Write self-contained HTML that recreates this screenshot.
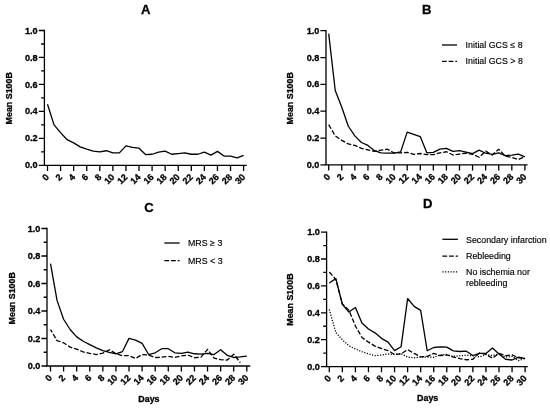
<!DOCTYPE html>
<html><head><meta charset="utf-8"><title>Mean S100B</title>
<style>html,body{margin:0;padding:0;background:#fff}svg{display:block}</style>
</head><body>
<svg width="550" height="408" viewBox="0 0 550 408">
<rect width="550" height="408" fill="#fff"/>
<g fill="none" stroke="#000" stroke-width="1.3" stroke-linecap="butt" stroke-linejoin="miter">
<path d="M44.4 29.85V165.95M44.4 165.3H246.70"/>
<path d="M38.80 165.30H44.4M41.10 151.82H44.4M38.80 138.34H44.4M41.10 124.86H44.4M38.80 111.38H44.4M41.10 97.90H44.4M38.80 84.42H44.4M41.10 70.94H44.4M38.80 57.46H44.4M41.10 43.98H44.4M38.80 30.50H44.4M47.50 165.3V170.90M60.57 165.3V170.90M73.65 165.3V170.90M86.72 165.3V170.90M99.79 165.3V170.90M112.87 165.3V170.90M125.94 165.3V170.90M139.01 165.3V170.90M152.09 165.3V170.90M165.16 165.3V170.90M178.23 165.3V170.90M191.31 165.3V170.90M204.38 165.3V170.90M217.45 165.3V170.90M230.53 165.3V170.90M243.60 165.3V170.90"/>
<polyline points="47.50,104.24 54.04,124.86 60.57,132.68 67.11,139.69 73.65,142.92 80.18,146.83 86.72,149.12 93.26,151.15 99.79,151.82 106.33,150.74 112.87,152.90 119.40,152.90 125.94,145.89 132.48,147.37 139.01,148.18 145.55,154.58 152.09,154.25 158.62,152.09 165.16,151.05 171.70,154.25 178.23,153.57 184.77,152.82 191.31,154.25 197.84,154.25 204.38,152.09 210.92,155.06 217.45,151.35 223.99,156.05 230.53,156.05 237.06,157.95 243.60,155.46" stroke-linejoin="round"/>
<path d="M326.0 30.05V165.55M326.0 164.9H527.60"/>
<path d="M320.40 164.90H326.0M320.40 138.06H326.0M320.40 111.22H326.0M320.40 84.38H326.0M320.40 57.54H326.0M320.40 30.70H326.0M328.70 164.9V170.50M341.78 164.9V170.50M354.86 164.9V170.50M367.94 164.9V170.50M381.02 164.9V170.50M394.10 164.9V170.50M407.18 164.9V170.50M420.26 164.9V170.50M433.34 164.9V170.50M446.42 164.9V170.50M459.50 164.9V170.50M472.58 164.9V170.50M485.66 164.9V170.50M498.74 164.9V170.50M511.82 164.9V170.50M524.90 164.9V170.50"/>
<polyline points="328.70,33.65 335.24,90.55 341.78,107.19 348.32,126.25 354.86,135.91 361.40,142.49 367.94,145.44 374.48,150.67 381.02,152.82 387.56,153.09 394.10,153.09 400.64,151.88 407.18,132.16 413.72,134.44 420.26,136.58 426.80,152.82 433.34,152.42 439.88,149.20 446.42,148.39 452.96,151.35 459.50,150.67 466.04,152.08 472.58,153.56 479.12,150.14 485.66,153.22 492.20,154.30 498.74,152.82 505.28,155.77 511.82,155.04 518.36,154.03 524.90,156.85" stroke-linejoin="round"/>
<polyline points="328.70,124.64 335.24,135.91 341.78,140.34 348.32,143.96 354.86,145.44 361.40,148.39 367.94,149.87 374.48,151.35 381.02,150.14 387.56,149.20 394.10,152.96 400.64,152.82 407.18,152.42 413.72,154.30 420.26,153.49 426.80,154.70 433.34,154.70 439.88,152.82 446.42,151.75 452.96,155.04 459.50,154.03 466.04,153.09 472.58,154.30 479.12,157.25 485.66,151.08 492.20,155.04 498.74,149.20 505.28,156.04 511.82,157.52 518.36,159.53 524.90,156.50" stroke-dasharray="4.75 1.9" stroke-linejoin="round"/>
<path d="M47.0 227.85V366.65M47.0 366.0H250.30"/>
<path d="M41.40 366.00H47.0M43.70 352.25H47.0M41.40 338.50H47.0M43.70 324.75H47.0M41.40 311.00H47.0M43.70 297.25H47.0M41.40 283.50H47.0M43.70 269.75H47.0M41.40 256.00H47.0M43.70 242.25H47.0M41.40 228.50H47.0M50.50 366.0V371.60M63.59 366.0V371.60M76.67 366.0V371.60M89.76 366.0V371.60M102.85 366.0V371.60M115.93 366.0V371.60M129.02 366.0V371.60M142.11 366.0V371.60M155.19 366.0V371.60M168.28 366.0V371.60M181.37 366.0V371.60M194.45 366.0V371.60M207.54 366.0V371.60M220.63 366.0V371.60M233.71 366.0V371.60M246.80 366.0V371.60"/>
<polyline points="50.50,263.70 57.04,300.41 63.59,319.25 70.13,329.49 76.67,336.85 83.22,341.25 89.76,344.55 96.30,347.85 102.85,350.60 109.39,352.31 115.93,353.76 122.48,351.56 129.02,338.36 135.56,340.15 142.11,343.45 148.65,354.52 155.19,352.80 161.74,348.68 168.28,348.68 174.82,352.80 181.37,353.35 187.91,352.02 194.45,353.76 201.00,354.22 207.54,353.35 214.08,354.52 220.63,349.77 227.17,355.27 233.71,357.48 240.26,356.93 246.80,356.10" stroke-linejoin="round"/>
<polyline points="50.50,329.49 57.04,340.56 63.59,342.76 70.13,347.16 76.67,349.09 83.22,351.98 89.76,353.35 96.30,354.52 102.85,353.07 109.39,349.77 115.93,353.76 122.48,355.69 129.02,355.69 135.56,358.49 142.11,354.52 148.65,355.00 155.19,357.48 161.74,357.20 168.28,356.28 174.82,357.48 181.37,355.96 187.91,355.00 194.45,357.75 201.00,357.20 207.54,349.36 214.08,358.20 220.63,359.68 227.17,360.09 233.71,354.22 240.26,362.56" stroke-dasharray="4.75 1.9" stroke-dashoffset="1.46" stroke-linejoin="round"/>
<path d="M326.6 231.45V367.25M326.6 366.6H527.80"/>
<path d="M321.00 366.60H326.6M323.30 353.15H326.6M321.00 339.70H326.6M323.30 326.25H326.6M321.00 312.80H326.6M323.30 299.35H326.6M321.00 285.90H326.6M323.30 272.45H326.6M321.00 259.00H326.6M323.30 245.55H326.6M321.00 232.10H326.6M329.30 366.6V372.20M342.35 366.6V372.20M355.41 366.6V372.20M368.46 366.6V372.20M381.51 366.6V372.20M394.57 366.6V372.20M407.62 366.6V372.20M420.67 366.6V372.20M433.73 366.6V372.20M446.78 366.6V372.20M459.83 366.6V372.20M472.89 366.6V372.20M485.94 366.6V372.20M498.99 366.6V372.20M512.05 366.6V372.20M525.10 366.6V372.20"/>
<polyline points="329.30,283.08 335.83,278.64 342.35,304.33 348.88,311.99 355.41,307.55 361.93,323.02 368.46,328.94 374.99,332.84 381.51,338.36 388.04,342.12 394.57,350.59 401.09,346.69 407.62,298.54 414.15,306.34 420.67,310.38 427.20,350.73 433.73,347.50 440.25,346.83 446.78,347.10 453.31,350.86 459.83,351.48 466.36,351.19 472.89,355.57 479.41,353.42 485.94,353.42 492.47,347.96 498.99,354.09 505.52,359.26 512.05,360.01 518.57,357.05 525.10,358.53" stroke-linejoin="round"/>
<polyline points="329.30,272.05 335.83,279.31 342.35,303.92 348.88,310.11 355.41,325.98 361.93,337.41 368.46,342.12 374.99,346.16 381.51,348.71 388.04,350.59 394.57,354.50 401.09,353.82 407.62,349.72 414.15,353.42 420.67,356.78 427.20,356.38 433.73,353.42 440.25,355.57 446.78,354.90 453.31,357.05 459.83,358.53 466.36,359.74 472.89,359.26 479.41,352.95 485.94,354.41 492.47,358.26 498.99,353.42 505.52,355.57 512.05,354.90 518.57,357.79 525.10,358.26" stroke-dasharray="4.75 1.9" stroke-linejoin="round"/>
<polyline points="329.30,309.44 335.83,332.57 342.35,339.83 348.88,345.75 355.41,348.98 361.93,351.67 368.46,353.82 374.99,355.71 381.51,355.03 388.04,353.96 394.57,354.50 401.09,353.69 407.62,357.05 414.15,357.79 420.67,357.05 427.20,357.05 433.73,357.32 440.25,354.90 446.78,354.50 453.31,356.38 459.83,355.84 466.36,355.30 472.89,355.57 479.41,357.05 485.94,354.50 492.47,355.57 498.99,353.82 505.52,357.05 512.05,356.38 518.57,360.72 525.10,358.26" stroke-dasharray="1.2 1.5" stroke-linejoin="round"/>
<path d="M442 45.0H457"/>
<path d="M442 61.4H457" stroke-dasharray="4.75 1.9"/>
<path d="M164.4 243.0H179.6"/>
<path d="M164.4 260.6H179.6" stroke-dasharray="4.75 1.9"/>
<path d="M442.4 239.3H457.9"/>
<path d="M442.4 256.2H457.9" stroke-dasharray="4.75 1.9"/>
<path d="M442.4 271.9H457.9" stroke-dasharray="1.2 1.5"/>
</g>
<g font-family="'Liberation Sans',Arial,sans-serif" fill="#000">
<g font-weight="bold" font-size="8.9" stroke="#000" stroke-width="0.3">
<text x="145.85" y="14.4" font-size="13.1" text-anchor="middle">A</text>
<text transform="translate(11.6 98.3) rotate(-90)" text-anchor="middle">Mean S100B</text>
<text x="37.70" y="168.40" text-anchor="end" font-size="9.1">0.0</text>
<text x="37.70" y="141.44" text-anchor="end" font-size="9.1">0.2</text>
<text x="37.70" y="114.48" text-anchor="end" font-size="9.1">0.4</text>
<text x="37.70" y="87.52" text-anchor="end" font-size="9.1">0.6</text>
<text x="37.70" y="60.56" text-anchor="end" font-size="9.1">0.8</text>
<text x="37.70" y="33.60" text-anchor="end" font-size="9.1">1.0</text>
<text transform="translate(49.70 177.70) rotate(-45)" text-anchor="end" font-size="9.1">0</text>
<text transform="translate(62.77 177.70) rotate(-45)" text-anchor="end" font-size="9.1">2</text>
<text transform="translate(75.85 177.70) rotate(-45)" text-anchor="end" font-size="9.1">4</text>
<text transform="translate(88.92 177.70) rotate(-45)" text-anchor="end" font-size="9.1">6</text>
<text transform="translate(101.99 177.70) rotate(-45)" text-anchor="end" font-size="9.1">8</text>
<text transform="translate(115.07 177.70) rotate(-45)" text-anchor="end" font-size="9.1">10</text>
<text transform="translate(128.14 177.70) rotate(-45)" text-anchor="end" font-size="9.1">12</text>
<text transform="translate(141.21 177.70) rotate(-45)" text-anchor="end" font-size="9.1">14</text>
<text transform="translate(154.29 177.70) rotate(-45)" text-anchor="end" font-size="9.1">16</text>
<text transform="translate(167.36 177.70) rotate(-45)" text-anchor="end" font-size="9.1">18</text>
<text transform="translate(180.43 177.70) rotate(-45)" text-anchor="end" font-size="9.1">20</text>
<text transform="translate(193.51 177.70) rotate(-45)" text-anchor="end" font-size="9.1">22</text>
<text transform="translate(206.58 177.70) rotate(-45)" text-anchor="end" font-size="9.1">24</text>
<text transform="translate(219.65 177.70) rotate(-45)" text-anchor="end" font-size="9.1">26</text>
<text transform="translate(232.73 177.70) rotate(-45)" text-anchor="end" font-size="9.1">28</text>
<text transform="translate(245.80 177.70) rotate(-45)" text-anchor="end" font-size="9.1">30</text>
<text x="426.7" y="14.2" font-size="13.1" text-anchor="middle">B</text>
<text transform="translate(293.0 98.3) rotate(-90)" text-anchor="middle">Mean S100B</text>
<text x="319.30" y="168.00" text-anchor="end" font-size="9.1">0.0</text>
<text x="319.30" y="141.16" text-anchor="end" font-size="9.1">0.2</text>
<text x="319.30" y="114.32" text-anchor="end" font-size="9.1">0.4</text>
<text x="319.30" y="87.48" text-anchor="end" font-size="9.1">0.6</text>
<text x="319.30" y="60.64" text-anchor="end" font-size="9.1">0.8</text>
<text x="319.30" y="33.80" text-anchor="end" font-size="9.1">1.0</text>
<text transform="translate(330.90 177.30) rotate(-45)" text-anchor="end" font-size="9.1">0</text>
<text transform="translate(343.98 177.30) rotate(-45)" text-anchor="end" font-size="9.1">2</text>
<text transform="translate(357.06 177.30) rotate(-45)" text-anchor="end" font-size="9.1">4</text>
<text transform="translate(370.14 177.30) rotate(-45)" text-anchor="end" font-size="9.1">6</text>
<text transform="translate(383.22 177.30) rotate(-45)" text-anchor="end" font-size="9.1">8</text>
<text transform="translate(396.30 177.30) rotate(-45)" text-anchor="end" font-size="9.1">10</text>
<text transform="translate(409.38 177.30) rotate(-45)" text-anchor="end" font-size="9.1">12</text>
<text transform="translate(422.46 177.30) rotate(-45)" text-anchor="end" font-size="9.1">14</text>
<text transform="translate(435.54 177.30) rotate(-45)" text-anchor="end" font-size="9.1">16</text>
<text transform="translate(448.62 177.30) rotate(-45)" text-anchor="end" font-size="9.1">18</text>
<text transform="translate(461.70 177.30) rotate(-45)" text-anchor="end" font-size="9.1">20</text>
<text transform="translate(474.78 177.30) rotate(-45)" text-anchor="end" font-size="9.1">22</text>
<text transform="translate(487.86 177.30) rotate(-45)" text-anchor="end" font-size="9.1">24</text>
<text transform="translate(500.94 177.30) rotate(-45)" text-anchor="end" font-size="9.1">26</text>
<text transform="translate(514.02 177.30) rotate(-45)" text-anchor="end" font-size="9.1">28</text>
<text transform="translate(527.10 177.30) rotate(-45)" text-anchor="end" font-size="9.1">30</text>
<text x="148.9" y="211.9" font-size="13.1" text-anchor="middle">C</text>
<text transform="translate(14.5 298.3) rotate(-90)" text-anchor="middle">Mean S100B</text>
<text x="148.9" y="401.6" text-anchor="middle">Days</text>
<text x="40.30" y="369.10" text-anchor="end" font-size="9.1">0.0</text>
<text x="40.30" y="341.60" text-anchor="end" font-size="9.1">0.2</text>
<text x="40.30" y="314.10" text-anchor="end" font-size="9.1">0.4</text>
<text x="40.30" y="286.60" text-anchor="end" font-size="9.1">0.6</text>
<text x="40.30" y="259.10" text-anchor="end" font-size="9.1">0.8</text>
<text x="40.30" y="231.60" text-anchor="end" font-size="9.1">1.0</text>
<text transform="translate(52.70 378.40) rotate(-45)" text-anchor="end" font-size="9.1">0</text>
<text transform="translate(65.79 378.40) rotate(-45)" text-anchor="end" font-size="9.1">2</text>
<text transform="translate(78.87 378.40) rotate(-45)" text-anchor="end" font-size="9.1">4</text>
<text transform="translate(91.96 378.40) rotate(-45)" text-anchor="end" font-size="9.1">6</text>
<text transform="translate(105.05 378.40) rotate(-45)" text-anchor="end" font-size="9.1">8</text>
<text transform="translate(118.13 378.40) rotate(-45)" text-anchor="end" font-size="9.1">10</text>
<text transform="translate(131.22 378.40) rotate(-45)" text-anchor="end" font-size="9.1">12</text>
<text transform="translate(144.31 378.40) rotate(-45)" text-anchor="end" font-size="9.1">14</text>
<text transform="translate(157.39 378.40) rotate(-45)" text-anchor="end" font-size="9.1">16</text>
<text transform="translate(170.48 378.40) rotate(-45)" text-anchor="end" font-size="9.1">18</text>
<text transform="translate(183.57 378.40) rotate(-45)" text-anchor="end" font-size="9.1">20</text>
<text transform="translate(196.65 378.40) rotate(-45)" text-anchor="end" font-size="9.1">22</text>
<text transform="translate(209.74 378.40) rotate(-45)" text-anchor="end" font-size="9.1">24</text>
<text transform="translate(222.83 378.40) rotate(-45)" text-anchor="end" font-size="9.1">26</text>
<text transform="translate(235.91 378.40) rotate(-45)" text-anchor="end" font-size="9.1">28</text>
<text transform="translate(249.00 378.40) rotate(-45)" text-anchor="end" font-size="9.1">30</text>
<text x="427.8" y="208.0" font-size="13.1" text-anchor="middle">D</text>
<text transform="translate(293.0 299.6) rotate(-90)" text-anchor="middle">Mean S100B</text>
<text x="427.7" y="401.3" text-anchor="middle">Days</text>
<text x="319.90" y="369.70" text-anchor="end" font-size="9.1">0.0</text>
<text x="319.90" y="342.80" text-anchor="end" font-size="9.1">0.2</text>
<text x="319.90" y="315.90" text-anchor="end" font-size="9.1">0.4</text>
<text x="319.90" y="289.00" text-anchor="end" font-size="9.1">0.6</text>
<text x="319.90" y="262.10" text-anchor="end" font-size="9.1">0.8</text>
<text x="319.90" y="235.20" text-anchor="end" font-size="9.1">1.0</text>
<text transform="translate(331.50 379.00) rotate(-45)" text-anchor="end" font-size="9.1">0</text>
<text transform="translate(344.55 379.00) rotate(-45)" text-anchor="end" font-size="9.1">2</text>
<text transform="translate(357.61 379.00) rotate(-45)" text-anchor="end" font-size="9.1">4</text>
<text transform="translate(370.66 379.00) rotate(-45)" text-anchor="end" font-size="9.1">6</text>
<text transform="translate(383.71 379.00) rotate(-45)" text-anchor="end" font-size="9.1">8</text>
<text transform="translate(396.77 379.00) rotate(-45)" text-anchor="end" font-size="9.1">10</text>
<text transform="translate(409.82 379.00) rotate(-45)" text-anchor="end" font-size="9.1">12</text>
<text transform="translate(422.87 379.00) rotate(-45)" text-anchor="end" font-size="9.1">14</text>
<text transform="translate(435.93 379.00) rotate(-45)" text-anchor="end" font-size="9.1">16</text>
<text transform="translate(448.98 379.00) rotate(-45)" text-anchor="end" font-size="9.1">18</text>
<text transform="translate(462.03 379.00) rotate(-45)" text-anchor="end" font-size="9.1">20</text>
<text transform="translate(475.09 379.00) rotate(-45)" text-anchor="end" font-size="9.1">22</text>
<text transform="translate(488.14 379.00) rotate(-45)" text-anchor="end" font-size="9.1">24</text>
<text transform="translate(501.19 379.00) rotate(-45)" text-anchor="end" font-size="9.1">26</text>
<text transform="translate(514.25 379.00) rotate(-45)" text-anchor="end" font-size="9.1">28</text>
<text transform="translate(527.30 379.00) rotate(-45)" text-anchor="end" font-size="9.1">30</text>
</g>
<g font-size="8.85" stroke="#000" stroke-width="0.15">
<text x="465.6" y="48.0">Initial GCS ≤ 8</text>
<text x="465.6" y="64.4">Initial GCS > 8</text>
<text x="188.0" y="246.4">MRS ≥ 3</text>
<text x="188.0" y="263.6">MRS < 3</text>
<text x="466.0" y="242.9">Secondary infarction</text>
<text x="466.0" y="259.3">Rebleeding</text>
<text x="466.0" y="275.2">No ischemia nor</text>
<text x="466.0" y="286.1">rebleeding</text>
</g></g></svg>
</body></html>
